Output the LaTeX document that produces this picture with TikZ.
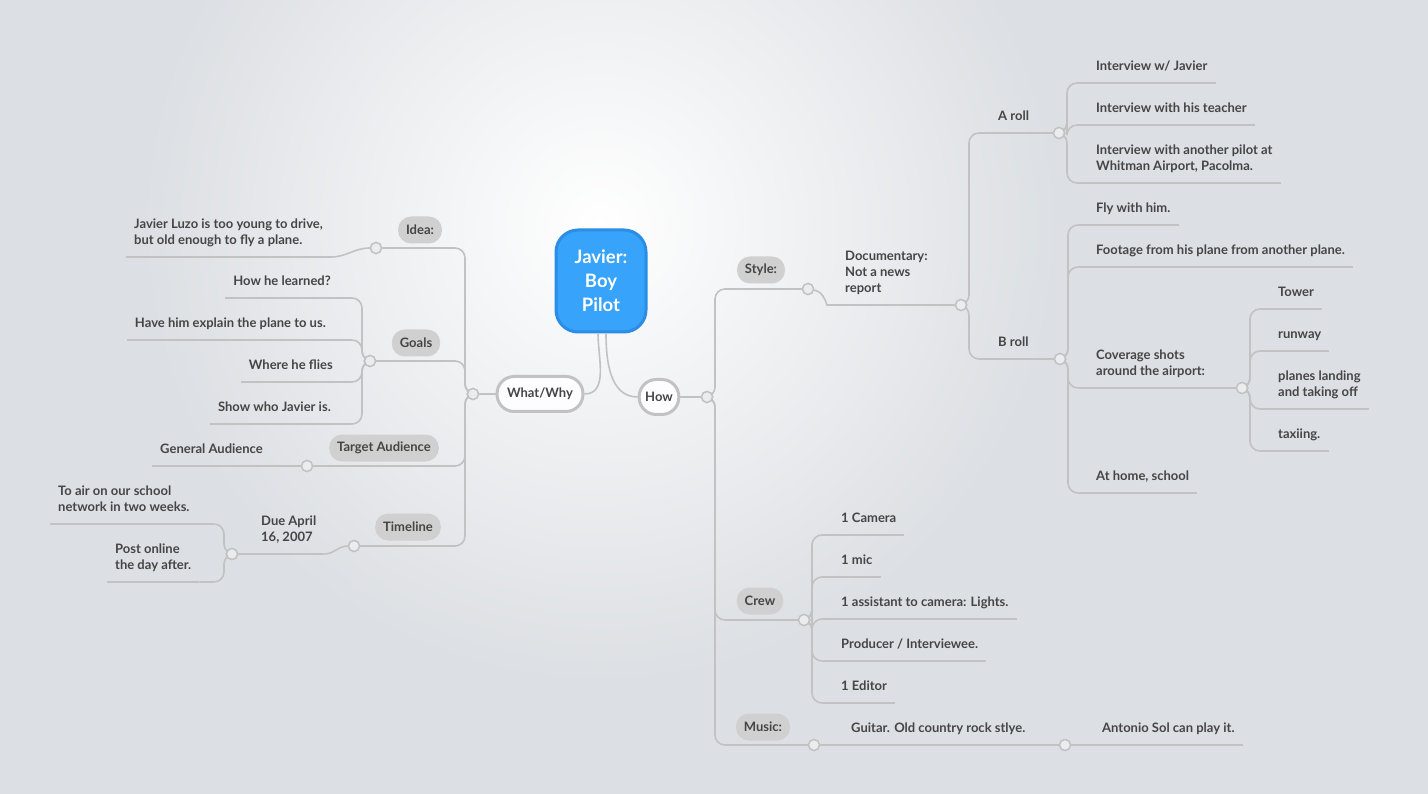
\documentclass[tikz,border=0pt]{standalone}
\usepackage{fontspec}
\setmainfont{Lato}[BoldFont={Lato Bold}]
\begin{document}
\definecolor{bgc}{HTML}{DCDFE3}
\definecolor{ln}{HTML}{C2C2C2}
\definecolor{txt}{HTML}{454545}
\definecolor{pill}{HTML}{D0D0D0}
\definecolor{blu}{HTML}{37A3FB}
\definecolor{blud}{HTML}{2B8DE6}
\begin{tikzpicture}[x=1pt,y=-1pt,
  conn/.style={draw=ln,line width=1.6pt,rounded corners=10pt},
  dot/.style={circle,draw=ln,fill=bgc!60!white,line width=1.4pt,minimum size=11pt,inner sep=0pt},
  leaf/.style={font=\fontsize{13}{16}\selectfont\bfseries,text=txt,inner xsep=8pt,inner ysep=12pt,text depth=0pt,align=left},
  pillst/.style={font=\fontsize{13}{16}\selectfont\bfseries,text=txt,fill=pill,rounded corners=13pt,minimum height=27pt,inner xsep=8pt},
  sub/.style={font=\fontsize{13}{16}\selectfont\bfseries,text=txt,fill=white!70!blue!3,draw=ln,line width=3pt,rounded corners=17pt,minimum height=35pt,inner xsep=10pt}]
\useasboundingbox (0,0) rectangle (1428,794);
\fill[bgc] (0,0) rectangle (1428,794);
\shade[inner color=white,outer color=bgc] (600,225) circle (460);
% central
\node[fill=blu,draw=blud,line width=3pt,rounded corners=22pt,minimum width=90pt,minimum height=102pt,text=white,align=center,font=\fontsize{18.5}{24}\selectfont\bfseries] (C) at (601,281) {Javier:\\Boy\\Pilot};
\node[sub] (WW) at (540,394) {What/Why};
\node[sub,inner xsep=6pt] (How) at (659,397) {How};
\draw[conn] (C.south) ++(-3,0) coordinate (c1) (c1) to[out=-90,in=0] (WW.east);
\draw[conn] (C.south) ++(5,0) coordinate (c2) (c2) to[out=-90,in=180] (How.west);
% left
\node[dot] (L0) at (473,394) {};
\node[pillst] (Idea) at (420,230) {Idea:};
\node[pillst] (Goals) at (416,343) {Goals};
\node[pillst] (TA) at (384,448) {Target Audience};
\node[pillst] (TL) at (408,527) {Timeline};
\node[dot] (Ic) at (376,248) {};
\node[dot] (Gc) at (370,361) {};
\node[dot] (Tc) at (307,466) {};
\node[dot] (Tlc) at (354,546) {};
\node[dot] (Dc) at (232,554) {};
\node[leaf,anchor=south west] (l1) at (126,257) {Javier Luzo is too young to drive,\\but old enough to fly a plane.};
\node[leaf,anchor=south east] (g1) at (339,298) {How he learned?};
\node[leaf,anchor=south east] (g2) at (334,340) {Have him explain the plane to us.};
\node[leaf,anchor=south east] (g3) at (341,382) {Where he flies};
\node[leaf,anchor=south east] (g4) at (339,424) {Show who Javier is.};
\node[leaf,anchor=south west] (ta1) at (152,466) {General Audience};
\node[leaf,anchor=south west] (tl1) at (253,554) {Due April\\16, 2007};
\node[leaf,anchor=south west] (d1) at (50,524) {To air on our school\\network in two weeks.};
\node[leaf,anchor=south west] (d2) at (107,582) {Post online\\the day after.};
\draw[conn] (WW.west) -- (L0);
\foreach \c in {Ic,Gc,Tc,Tlc} \draw[conn] (L0) -- ++(-8,0) |- (\c);
\draw[conn] (Ic) to[out=180,in=0] (l1.south east);
\foreach \g in {g1,g2,g3,g4} \draw[conn] (Gc) -- ++(-8,0) |- (\g.south east);
\draw[conn] (Tc) -- (ta1.south east);
\draw[conn] (Tlc) to[out=180,in=0] (tl1.south east);
\draw[conn] (Dc) -- (tl1.south west);
\draw[conn] (Dc) -- ++(-8,0) |- (d1.south east);
\draw[conn] (Dc) -- ++(-8,0) |- (d2.south east);
\foreach \n in {l1,g1,g2,g3,g4,ta1,tl1,d1,d2} \draw[conn] (\n.south west) -- (\n.south east);
% right
\node[dot] (R0) at (707,397) {};
\draw[conn] (How.east) -- (R0);
\node[pillst] (Style) at (761,270) {Style:};
\node[pillst] (Crew) at (760,601) {Crew};
\node[pillst] (Music) at (763,727) {Music:};
\node[dot] (S) at (808,289) {};
\node[dot] (Cr) at (804,620) {};
\node[dot] (M) at (814,745) {};
\foreach \c in {S,Cr,M} \draw[conn] (R0) -- ++(8,0) |- (\c);
\node[leaf,anchor=south west] (doc) at (837,305) {Documentary:\\Not a news\\report};
\node[dot] (D) at (961,305) {};
\draw[conn] (S) to[out=-10,in=180] (doc.south west) -- (D);
\node[leaf,anchor=south west] (ar) at (990,133) {A roll};
\node[leaf,anchor=south west] (br) at (990,359) {B roll};
\node[dot] (Ar) at (1059,133) {};
\node[dot] (Br) at (1060,359) {};
\draw[conn] (D) -- ++(8,0) |- (Ar);
\draw[conn] (D) -- ++(8,0) |- (Br);
\node[leaf,anchor=south west] (a1) at (1088,83) {Interview w/ Javier};
\node[leaf,anchor=south west] (a2) at (1088,125) {Interview with his teacher};
\node[leaf,anchor=south west] (a3) at (1088,183) {Interview with another pilot at\\Whitman Airport, Pacolma.};
\foreach \n in {a1,a2,a3} \draw[conn] (Ar) -- ++(8,0) |- (\n.south west);
\node[leaf,anchor=south west] (b1) at (1088,225) {Fly with him.};
\node[leaf,anchor=south west] (b2) at (1088,267) {Footage from his plane from another plane.};
\node[leaf,anchor=south west] (b3) at (1088,388) {Coverage shots\\around the airport:};
\node[leaf,anchor=south west] (b4) at (1088,493) {At home, school};
\foreach \n in {b1,b2,b3,b4} \draw[conn] (Br) -- ++(8,0) |- (\n.south west);
\node[dot] (Cv) at (1242,388) {};
\draw[conn] (b3.south east) -- (Cv);
\node[leaf,anchor=south west] (v1) at (1270,309) {Tower};
\node[leaf,anchor=south west] (v2) at (1270,351) {runway};
\node[leaf,anchor=south west] (v3) at (1270,409) {planes landing\\and taking off};
\node[leaf,anchor=south west] (v4) at (1270,451) {taxiing.};
\foreach \n in {v1,v2,v3,v4} \draw[conn] (Cv) -- ++(8,0) |- (\n.south west);
\node[leaf,anchor=south west] (k1) at (833,535) {1 Camera};
\node[leaf,anchor=south west] (k2) at (833,577) {1 mic};
\node[leaf,anchor=south west] (k3) at (833,619) {1 assistant to camera: Lights.};
\node[leaf,anchor=south west] (k4) at (833,661) {Producer / Interviewee.};
\node[leaf,anchor=south west] (k5) at (833,703) {1 Editor};
\foreach \n in {k1,k2,k3,k4,k5} \draw[conn] (Cr) -- ++(8,0) |- (\n.south west);
\node[leaf,anchor=south west] (m1) at (843,745) {Guitar. Old country rock stlye.};
\node[dot] (Gt) at (1065,745) {};
\node[leaf,anchor=south west] (m2) at (1094,745) {Antonio Sol can play it.};
\draw[conn] (M) -- (m1.south west);
\draw[conn] (m1.south east) -- (Gt) -- (m2.south west);
\foreach \n in {doc,ar,br,a1,a2,a3,b1,b2,b3,b4,v1,v2,v3,v4,k1,k2,k3,k4,k5,m1,m2} \draw[conn] (\n.south west) -- (\n.south east);
% redraw dots on top
\foreach \c in {L0,Ic,Gc,Tc,Tlc,Dc,R0,S,Cr,M,D,Ar,Br,Cv,Gt} \node[dot] at (\c) {};
\end{tikzpicture}
\end{document}
